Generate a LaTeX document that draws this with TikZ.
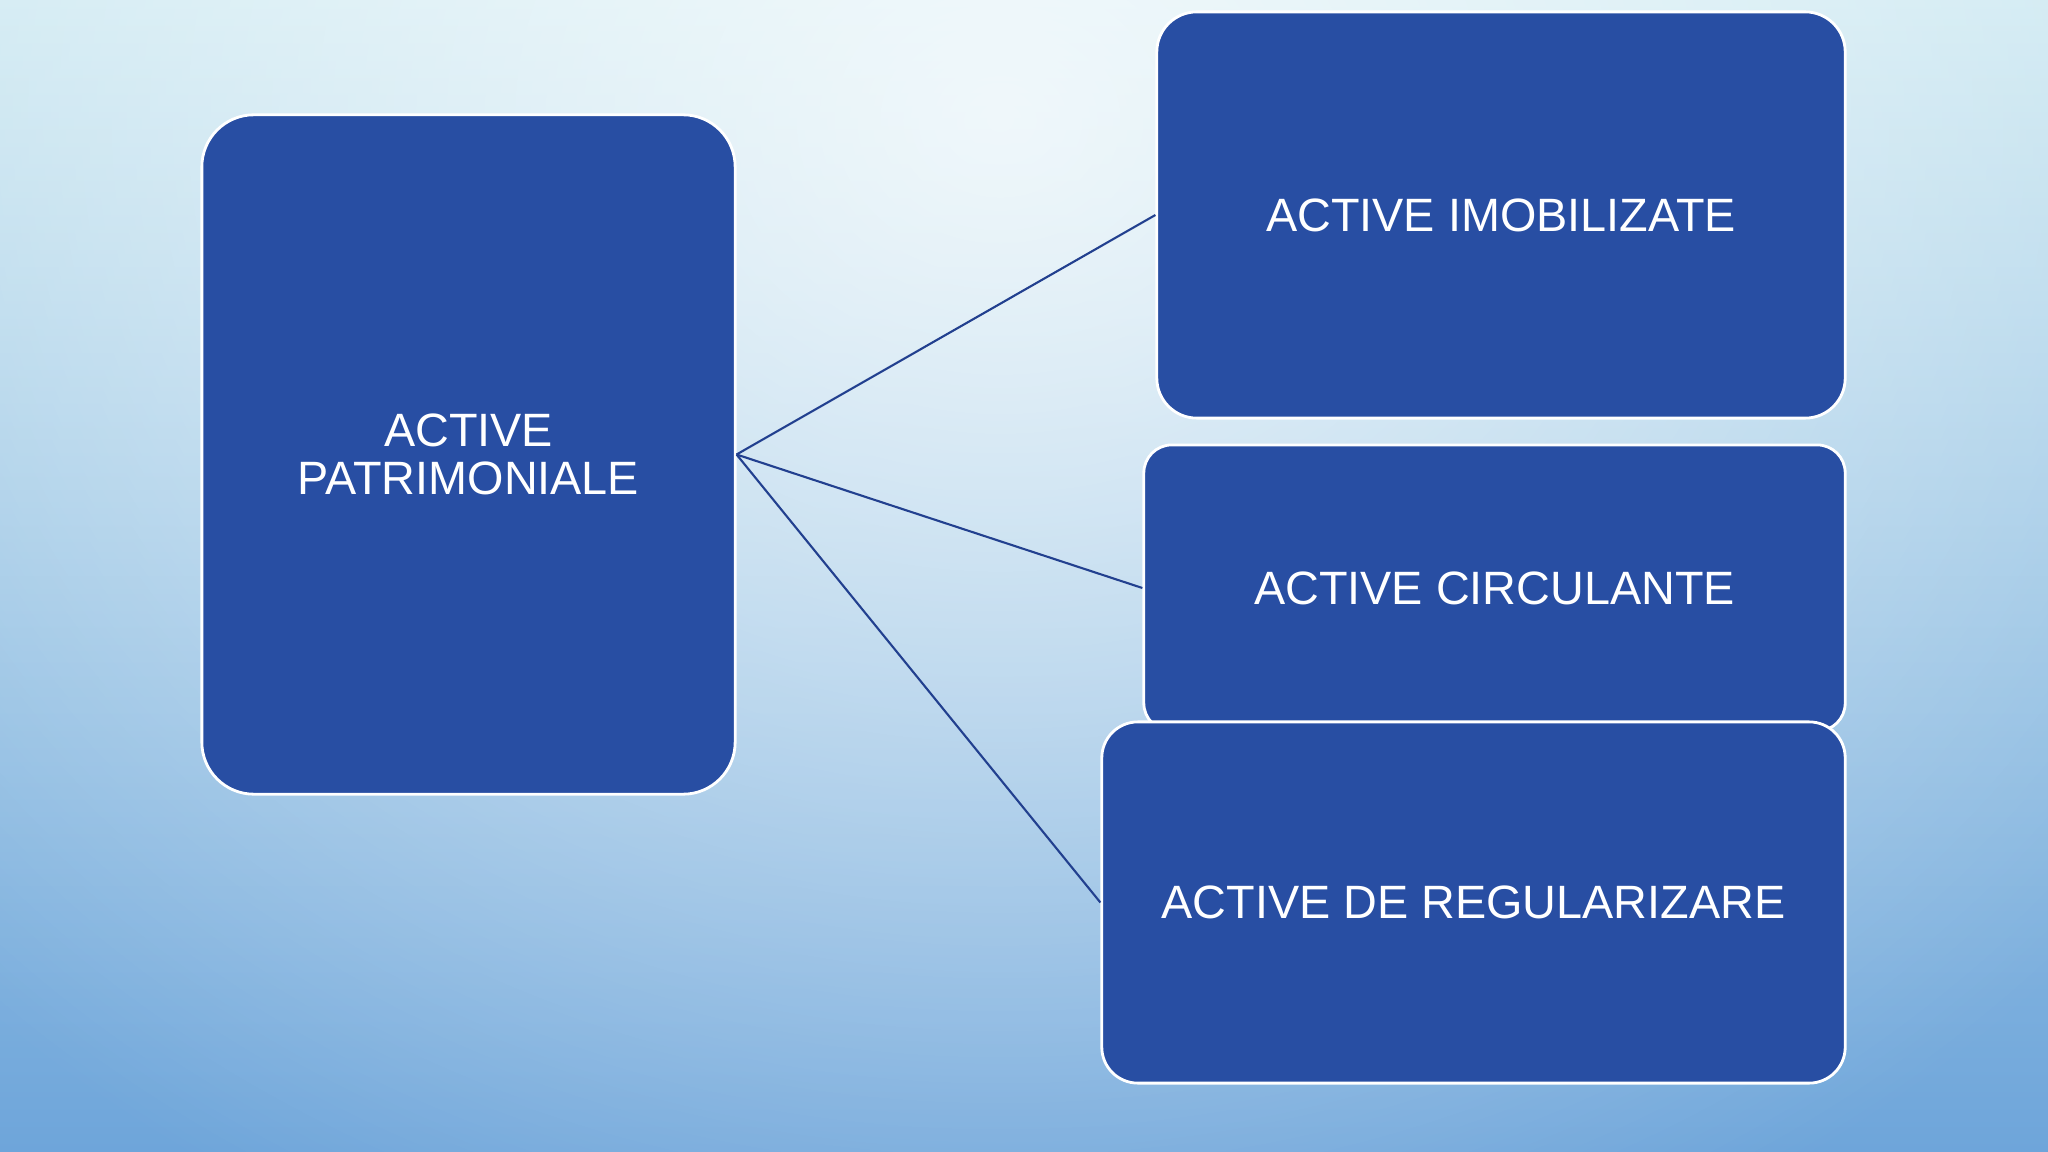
\documentclass[tikz,border=0pt]{standalone}
\usepackage{fontspec}
\setmainfont{Liberation Sans}
\usetikzlibrary{fadings}
\definecolor{boxblue}{HTML}{284EA3}
\definecolor{linkblue}{HTML}{22408F}
\definecolor{bgtop}{HTML}{CBE8F1}
\definecolor{bgmid}{HTML}{ACD0EA}
\definecolor{bgbot}{HTML}{6EA5DA}
\tikzfading[name=glow, inner color=transparent!25, outer color=transparent!100]
\tikzset{
  tile/.style={draw=white, line width=0.8pt, fill=boxblue, text=white, align=center,
    font=\fontsize{13.3}{13.8}\selectfont},
  link/.style={draw=linkblue, line width=0.6pt}
}
\begin{document}
\begin{tikzpicture}[x=0.01cm, y=-0.01cm]
  \useasboundingbox (0,0) rectangle (2048,1152);
  \shade[top color=bgtop, middle color=bgmid, bottom color=bgbot] (0,0) rectangle (2048,1152);
  \begin{scope}
    \clip (0,0) rectangle (2048,1152);
    \fill[white, path fading=glow] (1000,120) ellipse (1450 and 1250);
  \end{scope}
  \node[tile, minimum width=5.33cm, minimum height=6.79cm, rounded corners=0.52cm] (patrim) at (468.5,454.5) {ACTIVE\\PATRIMONIALE};
  \node[tile, minimum width=6.88cm, minimum height=4.06cm, rounded corners=0.40cm] (imob) at (1501,215) {ACTIVE IMOBILIZATE};
  \node[tile, minimum width=7.01cm, minimum height=2.86cm, rounded corners=0.28cm] (circ) at (1494.5,588) {ACTIVE CIRCULANTE};
  \node[tile, minimum width=7.43cm, minimum height=3.61cm, rounded corners=0.36cm] (regul) at (1473.5,902.5) {ACTIVE DE REGULARIZARE};
  \draw[link] (patrim.east) -- (imob.west);
  \draw[link] (patrim.east) -- (circ.west);
  \draw[link] (patrim.east) -- (regul.west);
\end{tikzpicture}
\end{document}
